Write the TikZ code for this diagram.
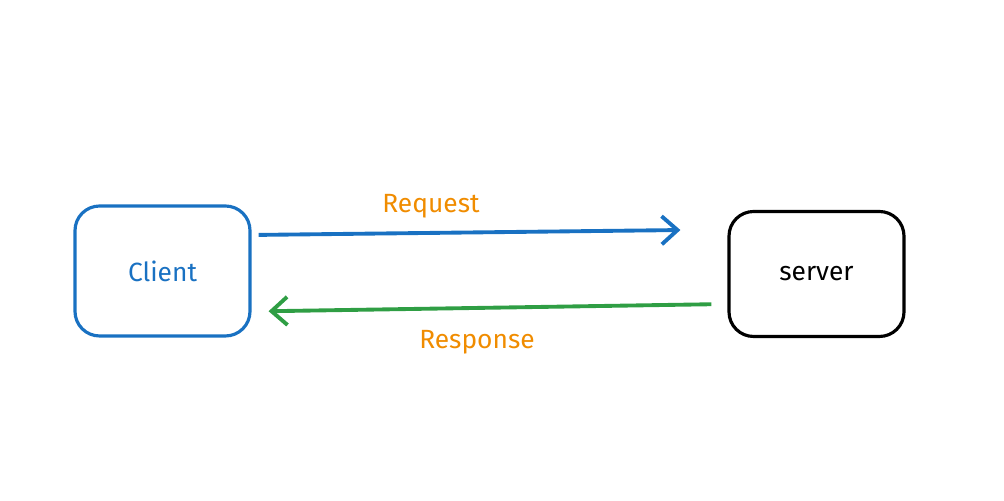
\documentclass[tikz,border=0pt]{standalone}
\usepackage{fontspec}
\setmainfont{Fira Sans}
\usetikzlibrary{arrows.meta,positioning}
\definecolor{reqblue}{HTML}{1971C2}
\definecolor{resgreen}{HTML}{2F9E44}
\definecolor{lblorange}{HTML}{F08C00}
\tikzset{>={Straight Barb[length=9pt,width=16pt]}}
\tikzset{box/.style={draw,line width=1.8pt,rounded corners=14pt,minimum width=3.5cm,minimum height=2.6cm,font=\fontsize{15}{17}\selectfont}}
\tikzset{lbl/.style={text=lblorange,font=\fontsize{15}{17}\selectfont}}

\begin{document}
\begin{tikzpicture}
\useasboundingbox (0,0) rectangle (20.08,10.02);
\node[box,draw=reqblue,text=reqblue] (client) at (3.25,4.6) {Client};
\node[box,draw=black,text=black,minimum height=2.5cm] (server) at (16.33,4.54) {server};
\draw[->,reqblue,line width=2.2pt,shorten <=0.14cm,shorten >=0.94cm]
  ([yshift=0.72cm]client.east) -- ([yshift=0.89cm]server.west);
\draw[->,resgreen,line width=2.2pt,shorten <=0.32cm,shorten >=0.34cm]
  ([yshift=-0.6cm]server.west) -- ([yshift=-0.81cm]client.east);
\node[lbl] (reqlbl) at (8.62,5.9) {Request};
\node[lbl] (reslbl) at (9.54,3.18) {Response};
\end{tikzpicture}
\end{document}
